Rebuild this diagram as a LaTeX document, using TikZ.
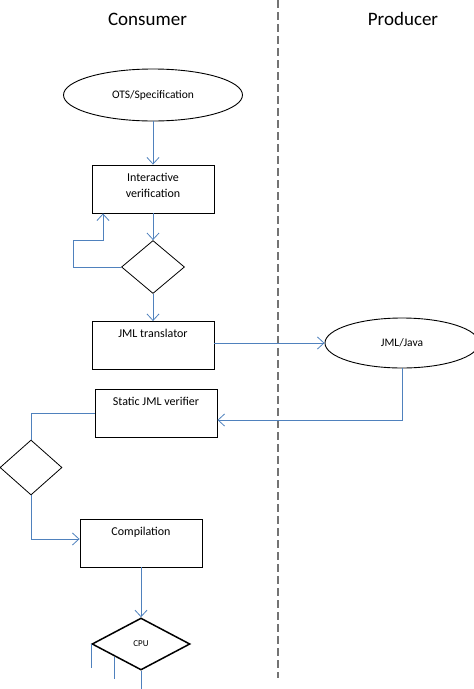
\documentclass[tikz,border=0pt]{standalone}
\usepackage{fontspec}
\setmainfont{Carlito}
\usetikzlibrary{shapes.geometric,arrows.meta,calc}
\definecolor{linkblue}{RGB}{79,129,189}

\begin{document}
\begin{tikzpicture}[x=1pt,y=-1pt,
    flow/.style={draw=linkblue,line width=0.8pt},
    arr/.style={flow,-{Straight Barb[length=6.5pt,width=12pt]}},
    box/.style={draw,line width=0.9pt,minimum width=122pt,minimum height=48pt,inner sep=0pt},
    boxtext/.style={anchor=north,inner sep=0pt,yshift=-8pt,align=center,font=\fontsize{12}{16}\selectfont},
    oval/.style={draw,ellipse,line width=0.9pt,inner sep=0pt,font=\fontsize{11.5}{14}\selectfont},
    decision/.style={draw,diamond,line width=0.8pt,inner sep=0pt}]
                \useasboundingbox (0,0) rectangle (474,689);
                \draw [black!55,line width=1.1pt,dash pattern=on 8pt off 4pt] (278,0) -- (278,678);
                \node [font=\fontsize{19}{22}\selectfont] (consumer) at (147.5,19) {Consumer};
                \node [font=\fontsize{19}{22}\selectfont] (producer) at (403,19) {Producer};
                \node [oval,minimum width=179pt,minimum height=52pt] (spec) at (153,95) {OTS/Specification};
                \node [box,label={[boxtext]north:Interactive\\verification}] (inter) at (153,189) {};
                \node [decision,minimum width=63pt,minimum height=53pt] (check) at (153,267) {};
                \node [box,label={[boxtext]north:JML translator}] (trans) at (153,345.5) {};
                \node [oval,minimum width=154pt,minimum height=50pt] (jml) at (402,343) {JML/Java};
                \node [box,label={[boxtext]north:Static JML verifier}] (static) at (156,413) {};
                \node [decision,minimum width=62pt,minimum height=55pt] (gate) at (31,467.5) {};
                \node [box,label={[boxtext]north:Compilation}] (comp) at (141,543) {};
                \node [decision,line width=1.5pt,minimum width=98pt,minimum height=52pt,font=\fontsize{9}{10}\selectfont] (cpu) at (141,644) {CPU};
                \coordinate (loop) at (73,240);
                \coordinate (back) at (103,240);
                \draw [arr] (spec) -- (inter);
                \draw [arr] (inter) -- (check);
                \draw [arr] (check.west) -| (loop) -- (back) -- (back |- inter.south);
                \draw [arr] (check) -- (trans);
                \draw [arr] (trans.east |- jml.west) -- (jml.west);
                \draw [arr] (jml.south) |- ($(static.east)+(0,7)$);
                \draw [flow] (static.west) -| (gate.north);
                \draw [arr] (gate.south) |- ($(comp.west)+(0,-4)$);
                \draw [arr] (comp) -- (cpu);
                \draw [flow] (cpu.west) -- ++(0,24);
                \draw [flow] ($(cpu.west)!0.47!(cpu.south)$) -- ++(0,22);
                \draw [flow] (cpu.south) -- ++(0,20);
            \end{tikzpicture}
\end{document}
